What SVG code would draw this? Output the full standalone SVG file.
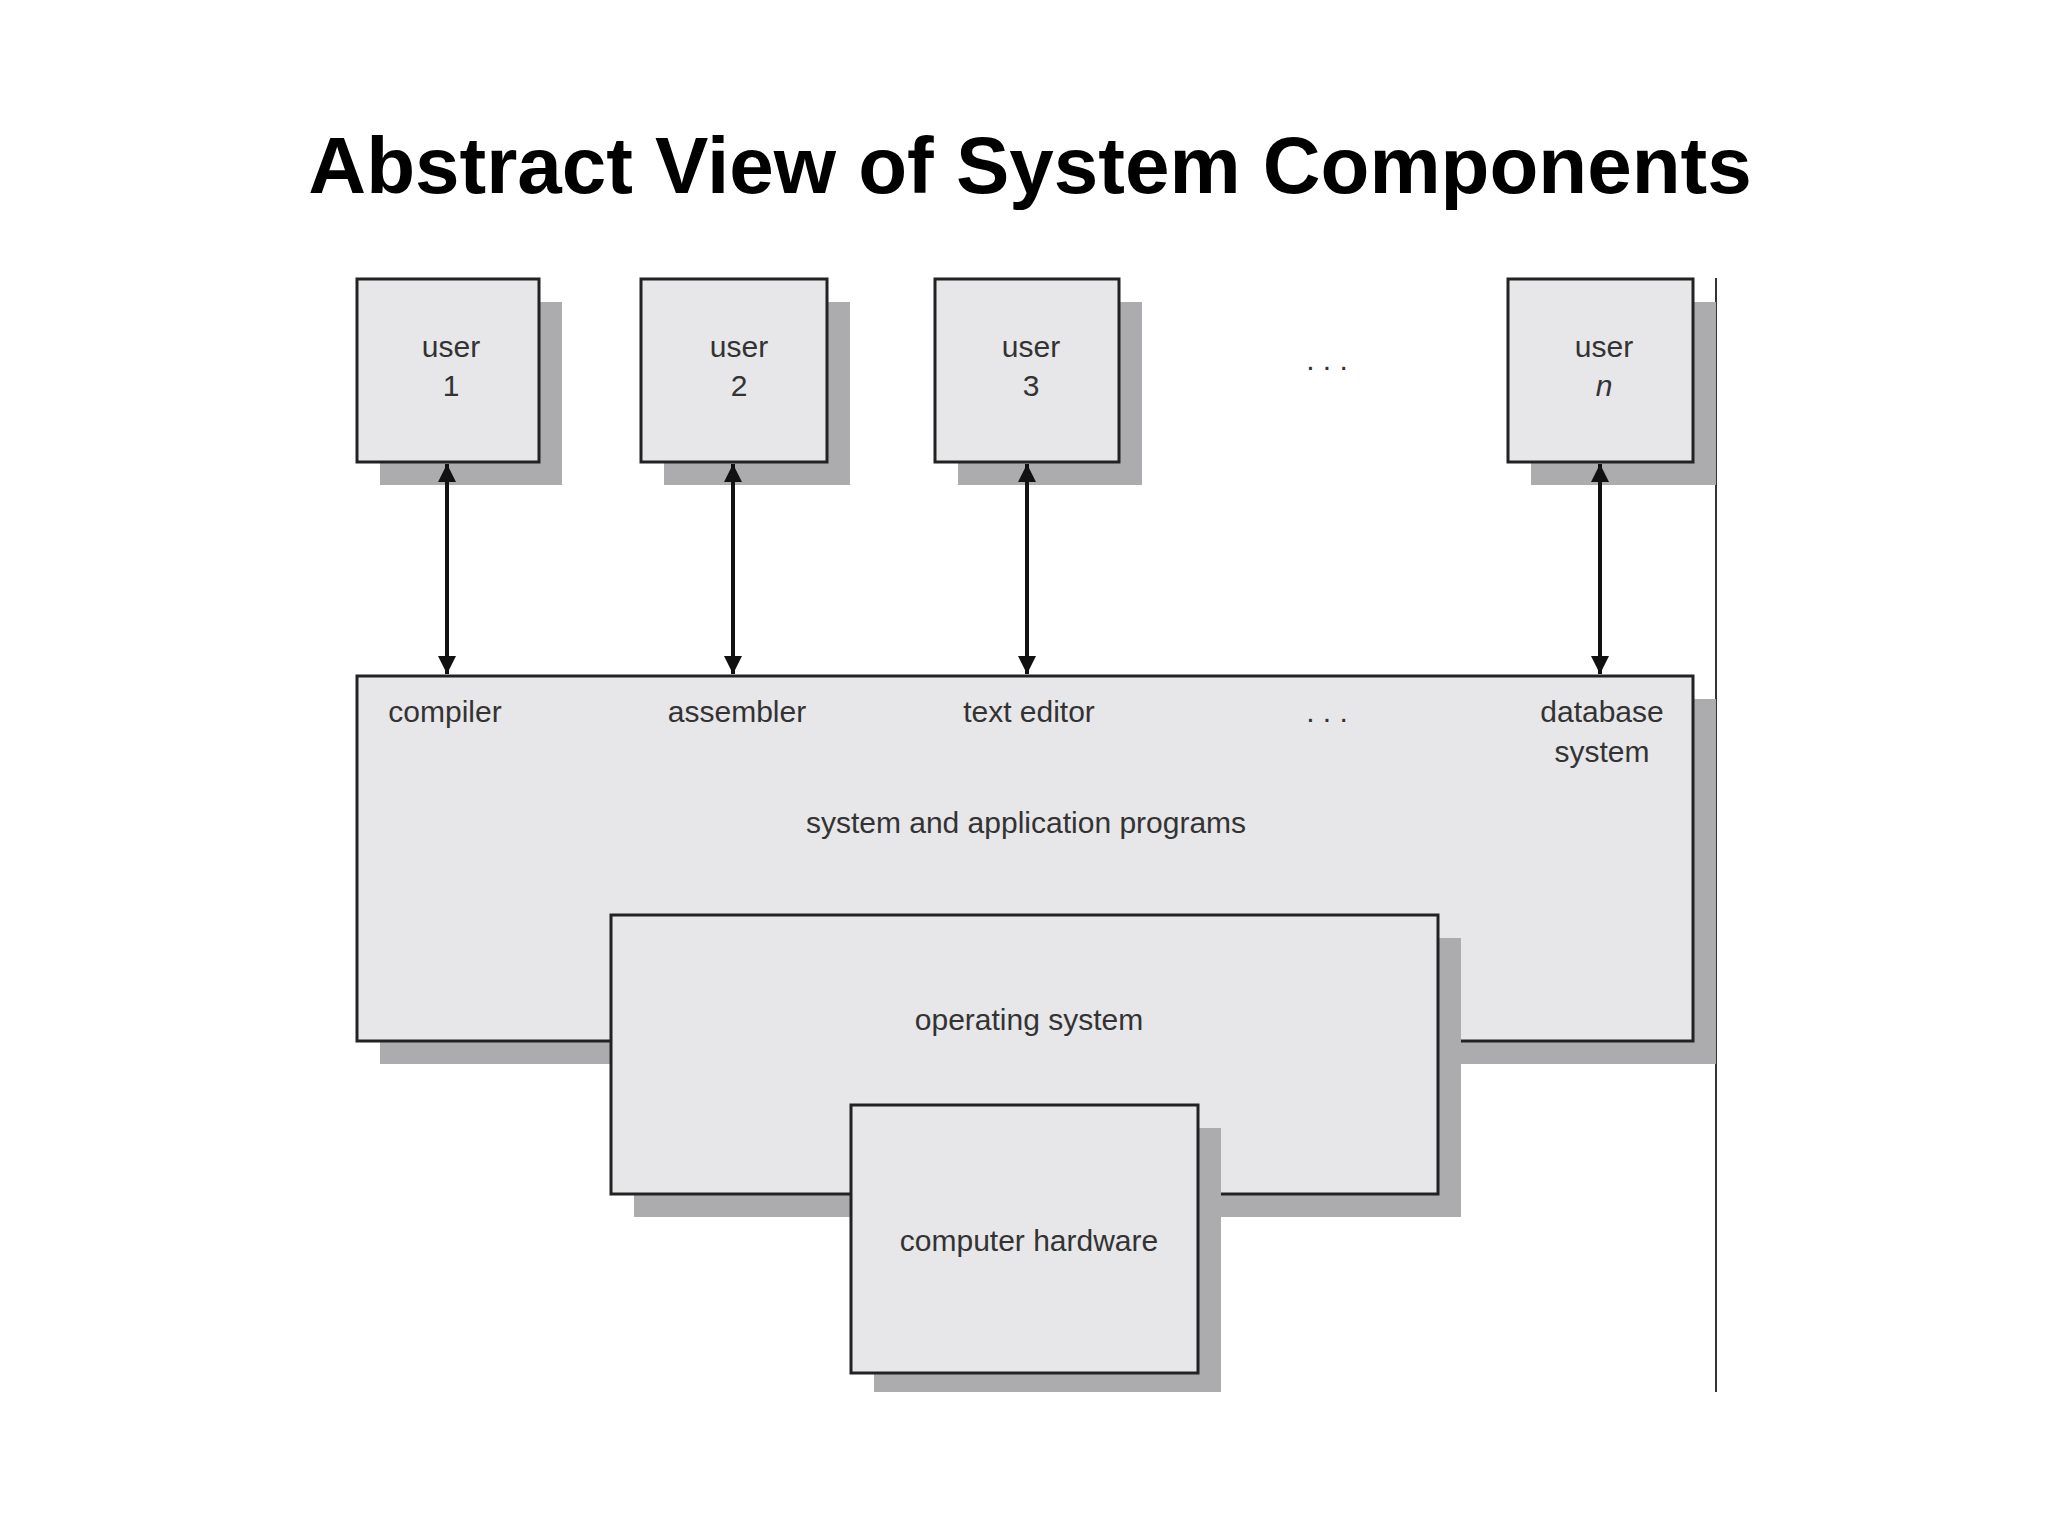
<svg xmlns="http://www.w3.org/2000/svg" width="2048" height="1536" viewBox="0 0 2048 1536">
<style>
.box{fill:#e7e6e9;stroke:#222;stroke-width:3}
.sh{fill:#acabae}
.t{font-family:"Liberation Sans",Arial,sans-serif;font-size:30px;fill:#333;text-anchor:middle}
.c{stroke:#111;stroke-width:4;fill:none;marker-start:url(#a);marker-end:url(#a)}
</style>
<defs>
<marker id="a" viewBox="0 0 10 10" refX="10" refY="5" markerWidth="5" markerHeight="4.5" orient="auto-start-reverse" markerUnits="strokeWidth"><path d="M0,0L10,5L0,10z" fill="#111"/></marker>
</defs>
<rect width="2048" height="1536" fill="#fff"/>
<text x="1030" y="193" font-family="Liberation Sans,Arial,sans-serif" font-size="80" font-weight="bold" text-anchor="middle" fill="#000">Abstract View of System Components</text>
<line x1="1716" y1="278" x2="1716" y2="1392" stroke="#333" stroke-width="2"/>
<g id="apps"><rect class="sh" x="380" y="699" width="1336" height="365"/><rect class="box" x="357" y="676" width="1336" height="365"/>
<text class="t" x="445" y="722">compiler</text><text class="t" x="737" y="722">assembler</text><text class="t" x="1029" y="722">text editor</text><text class="t" x="1327" y="722">. . .</text><text class="t" x="1602" y="722">database</text><text class="t" x="1602" y="762">system</text><text class="t" x="1026" y="833">system and application programs</text></g>
<g id="os"><rect class="sh" x="634" y="938" width="827" height="279"/><rect class="box" x="611" y="915" width="827" height="279"/><text class="t" x="1029" y="1030">operating system</text></g>
<g id="hw"><rect class="sh" x="874" y="1128" width="347" height="264"/><rect class="box" x="851" y="1105" width="347" height="268"/><text class="t" x="1029" y="1251">computer hardware</text></g>
<g id="u1"><rect class="sh" x="380" y="302" width="182" height="183"/><rect class="box" x="357" y="279" width="182" height="183"/><text class="t" x="451" y="357">user</text><text class="t" x="451" y="396">1</text></g>
<g id="u2"><rect class="sh" x="664" y="302" width="186" height="183"/><rect class="box" x="641" y="279" width="186" height="183"/><text class="t" x="739" y="357">user</text><text class="t" x="739" y="396">2</text></g>
<g id="u3"><rect class="sh" x="958" y="302" width="184" height="183"/><rect class="box" x="935" y="279" width="184" height="183"/><text class="t" x="1031" y="357">user</text><text class="t" x="1031" y="396">3</text></g>
<text class="t" x="1327" y="370" font-size="34">. . .</text>
<g id="un"><rect class="sh" x="1531" y="302" width="185" height="183"/><rect class="box" x="1508" y="279" width="185" height="183"/><text class="t" x="1604" y="357">user</text><text class="t" x="1604" y="396" font-style="italic">n</text></g>
<g id="connectors">
<line class="c" x1="447" y1="464" x2="447" y2="674"/>
<line class="c" x1="733" y1="464" x2="733" y2="674"/>
<line class="c" x1="1027" y1="464" x2="1027" y2="674"/>
<line class="c" x1="1600" y1="464" x2="1600" y2="674"/>
</g>
</svg>
